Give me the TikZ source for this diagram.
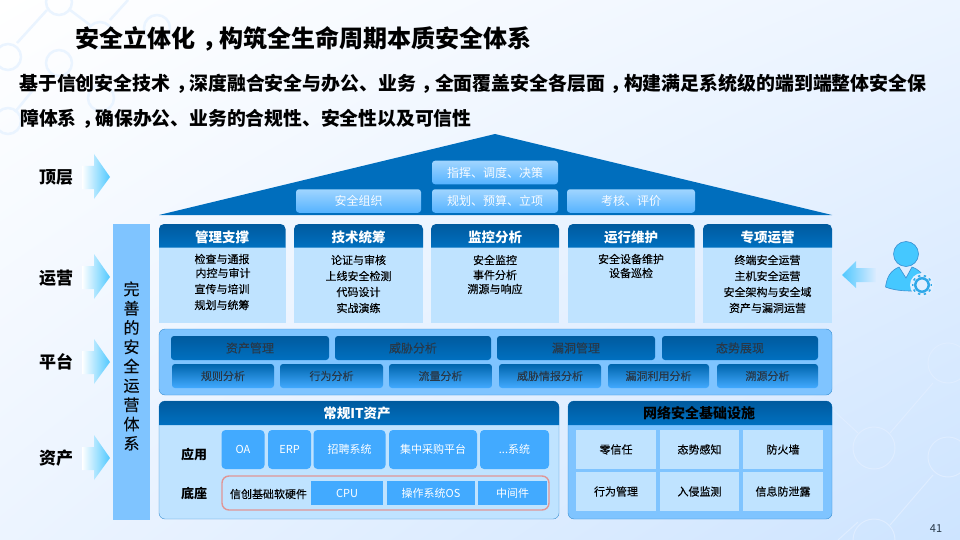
\documentclass[tikz,border=0pt]{standalone}
\usepackage{fontspec}
\setmainfont{Noto Sans CJK SC}
\newfontfamily\medfont[FakeBold=0.12]{Noto Sans CJK SC}
\usepackage{xcolor}
\definecolor{pagemid}{RGB}{236, 244, 255}
\definecolor{pageblue}{RGB}{205, 228, 255}
\definecolor{ringpale}{RGB}{234, 244, 255}
\definecolor{roofblue}{RGB}{0, 110, 189}
\definecolor{headdark}{RGB}{0, 90, 158}
\definecolor{headblue}{RGB}{0, 112, 192}
\definecolor{bodypale}{RGB}{191, 227, 255}
\definecolor{panelblue}{RGB}{127, 196, 255}
\definecolor{panelline}{RGB}{58, 143, 208}
\definecolor{chipblue}{RGB}{66, 170, 255}
\definecolor{arrowcyan}{RGB}{80, 200, 255}
\definecolor{userblue}{RGB}{69, 200, 255}
\definecolor{gearblue}{RGB}{47, 168, 232}
\definecolor{framered}{RGB}{224, 150, 150}
\definecolor{darktext}{RGB}{40, 56, 72}
\newcommand{\ccomma}{\kern.3em，\kern-.3em}
\usepackage{tikz}
\usetikzlibrary{shadings}
\tikzset{
    hdrbar/.style={top color=headdark, bottom color=headblue},
    hdrtext/.style={font=\fontsize{13.5}{15}\selectfont\bfseries, text=white, inner sep=0pt},
    bodytext/.style={font=\fontsize{11}{13}\selectfont\medfont, text=black, inner sep=0pt},
    sidelabel/.style={font=\fontsize{17}{19}\selectfont\bfseries, text=black, inner sep=0pt},
    roofbtn/.style={rounded corners=3pt, top color=bodypale!75!chipblue, bottom color=chipblue!90!white, minimum height=23.5pt, inner sep=0pt, font=\fontsize{12}{14}\selectfont, text=white!90!bodypale},
    platbtn/.style={rounded corners=3pt, top color=headdark, bottom color=headblue, minimum height=24pt, inner sep=0pt, font=\fontsize{12}{14}\selectfont\medfont, text=darktext},
    subbtn/.style={rounded corners=3pt, top color=headblue!90!black, bottom color=chipblue, minimum height=24pt, inner sep=0pt, font=\fontsize{11}{13}\selectfont\medfont, text=darktext},
    appbtn/.style={rounded corners=4pt, fill=chipblue, minimum height=39pt, inner sep=0pt, font=\fontsize{11}{13}\selectfont, text=white},
    basebtn/.style={fill=chipblue, minimum height=24pt, inner sep=0pt, font=\fontsize{11}{13}\selectfont, text=white},
    cellbox/.style={fill=bodypale, minimum height=39pt, inner sep=0pt, font=\fontsize{11}{13}\selectfont\medfont, text=black},
    ring/.style={draw=ringpale, line width=2.5pt},
    whitering/.style={draw=white!35!pageblue, line width=1pt}
}
\begin{document}
\begin{tikzpicture}[x=1pt, y=-1pt]
    \useasboundingbox (0,0) rectangle (960,540);
    \shade[upper left=white, upper right=pagemid, lower left=pagemid, lower right=pageblue] (0,0) rectangle (960,540);

    % pale rings behind the text
    \draw[ring] (59,2) circle (13) (8,57) circle (13) (59,63) circle (13) (157,28) circle (13) (100,35) circle (13) (101,98) circle (13) (8,121) circle (13);
    \draw[ring] (47,10) -- (17,43) (70,10) -- (90,25) (110,20) -- (128,0) (33,90) -- (15,112);
    \draw[whitering] (948,363) circle (20) (874,448) circle (21) (948,457) circle (20) (874,540) circle (21);
    \draw[whitering] (890,433) -- (933,383) (890,525) -- (933,475) (833,410) -- (858,433) (858,522) -- (838,540);

    % title
    \node[font=\fontsize{24}{28}\selectfont\bfseries, anchor=west, inner sep=0pt] (title) at (75,39) {安全立体化\ccomma 构筑全生命周期本质安全体系};
    \node[font=\fontsize{18.9}{22}\selectfont\bfseries, anchor=west, inner sep=0pt] (introa) at (19,84) {基于信创安全技术\ccomma 深度融合安全与办公、业务\ccomma 全面覆盖安全各层面\ccomma 构建满足系统级的端到端整体安全保};
    \node[font=\fontsize{18.8}{22}\selectfont\bfseries, anchor=west, inner sep=0pt] (introb) at (20,118.5) {障体系\ccomma 确保办公、业务的合规性、安全性以及可信性};

    % left labels and arrows
    \node[sidelabel] (lbltop) at (56,177) {顶层};
    \node[sidelabel] (lblops) at (56,278) {运营};
    \node[sidelabel] (lblplat) at (56,362) {平台};
    \node[sidelabel] (lblasset) at (56,458) {资产};
    \shade[left color=white, right color=arrowcyan] (82,166) -- (94,166) -- (94,154) -- (110,177) -- (94,199) -- (94,189) -- (82,189) -- cycle;
    \shade[left color=white, right color=arrowcyan] (82,266) -- (94,266) -- (94,254) -- (110,277) -- (94,299) -- (94,289) -- (82,289) -- cycle;
    \shade[left color=white, right color=arrowcyan] (82,351) -- (94,351) -- (94,339) -- (110,362) -- (94,384) -- (94,374) -- (82,374) -- cycle;
    \shade[left color=white, right color=arrowcyan] (82,447) -- (94,447) -- (94,435) -- (110,458) -- (94,480) -- (94,470) -- (82,470) -- cycle;

    % vertical bar
    \fill[panelblue] (113,224) rectangle (150,520);
    \node[font=\fontsize{16}{19.3}\selectfont\medfont, text=black!85!darktext, align=center, inner sep=0pt] (vbar) at (131.5,366) {完\\善\\的\\安\\全\\运\\营\\体\\系};

    % roof
    \fill[roofblue] (159,215) -- (495,134) -- (832,215) -- cycle;
    \node[roofbtn, minimum width=126pt] (command) at (495,172.5) {指挥、调度、决策};
    \node[roofbtn, minimum width=125pt] (secorg) at (358.5,201) {安全组织};
    \node[roofbtn, minimum width=126pt] (planning) at (495,201) {规划、预算、立项};
    \node[roofbtn, minimum width=128pt] (review) at (631,201) {考核、评价};

    % operations columns
    \fill[bodypale] (159,247) rectangle (285.5,323);
    \fill[bodypale] (294,247) rectangle (423,323);
    \fill[bodypale] (431,247) rectangle (559,323);
    \fill[bodypale] (568,247) rectangle (694.5,323);
    \fill[bodypale] (703,247) rectangle (832,323);
    \shade[hdrbar] (159,247.5) [rounded corners=5pt] -- (159,224) -- (285.5,224) [sharp corners] -- (285.5,247.5) -- cycle;
    \shade[hdrbar] (294,247.5) [rounded corners=5pt] -- (294,224) -- (423,224) [sharp corners] -- (423,247.5) -- cycle;
    \shade[hdrbar] (431,247.5) [rounded corners=5pt] -- (431,224) -- (559,224) [sharp corners] -- (559,247.5) -- cycle;
    \shade[hdrbar] (568,247.5) [rounded corners=5pt] -- (568,224) -- (694.5,224) [sharp corners] -- (694.5,247.5) -- cycle;
    \shade[hdrbar] (703,247.5) [rounded corners=5pt] -- (703,224) -- (832,224) [sharp corners] -- (832,247.5) -- cycle;
    \node[hdrtext] (mgmt) at (222,237) {管理支撑};
    \node[hdrtext] (tech) at (358.5,237) {技术统筹};
    \node[hdrtext] (monitor) at (495,237) {监控分析};
    \node[hdrtext] (maint) at (631,237) {运行维护};
    \node[hdrtext] (special) at (767.5,237) {专项运营};

    \node[bodytext] (mgmta) at (222,259) {检查与通报};
    \node[bodytext] (mgmtb) at (223,273) {内控与审计};
    \node[bodytext] (mgmtc) at (222,289) {宣传与培训};
    \node[bodytext] (mgmtd) at (222,305) {规划与统筹};
    \node[bodytext] (techa) at (358.5,260) {论证与审核};
    \node[bodytext] (techb) at (358.5,276) {上线安全检测};
    \node[bodytext] (techc) at (358.5,292) {代码设计};
    \node[bodytext] (techd) at (358.5,308) {实战演练};
    \node[bodytext] (mona) at (495,260) {安全监控};
    \node[bodytext] (monb) at (495,275) {事件分析};
    \node[bodytext] (monc) at (495,289) {溯源与响应};
    \node[bodytext] (mnta) at (631,259) {安全设备维护};
    \node[bodytext] (mntb) at (631,273) {设备巡检};
    \node[bodytext] (spca) at (767.5,260) {终端安全运营};
    \node[bodytext] (spcb) at (767.5,276) {主机安全运营};
    \node[bodytext] (spcc) at (767.5,292) {安全架构与安全域};
    \node[bodytext] (spcd) at (767.5,308) {资产与漏洞运营};

    % user on the right
    \shade[left color=arrowcyan, right color=pageblue!70!white] (842,275) -- (856,261) -- (856,268) -- (876,268) -- (876,282) -- (856,282) -- (856,288) -- cycle;
    \filldraw[fill=userblue, draw=panelline, line width=0.6pt] (906,254) circle (12.5);
    \filldraw[fill=userblue, draw=panelline, line width=0.6pt] (885.5,287) .. controls (887,277) and (890,271) .. (899,267) -- (906,278) -- (912,267) .. controls (918,269) and (924,274) .. (926,282) -- (912,291) .. controls (902,291) and (893,290) .. (885.5,287) -- cycle;
    \fill[pageblue!60!white] (922,285) circle (12);
    \foreach \ang in {0,36,...,324}
        \draw[gearblue, line width=2.4pt] (922,285) ++(\ang:7) -- ++(\ang:3.2);
    \draw[gearblue, line width=2.6pt] (922,285) circle (6.8);
    \draw[pageblue!60!white, line width=0.5pt] (922,285) circle (8.4);

    % platform
    \node[draw=panelline, fill=panelblue, rounded corners=6pt, minimum width=673pt, minimum height=66pt, inner sep=0pt] (platform) at (495.5,362) {};
    \node[platbtn, minimum width=158pt] (assetmgmt) at (250,348) {资产管理};
    \node[platbtn, minimum width=156pt] (threat) at (413,348) {威胁分析};
    \node[platbtn, minimum width=158pt] (vuln) at (576,348) {漏洞管理};
    \node[platbtn, minimum width=156pt] (situation) at (740,348) {态势展现};
    \node[subbtn, minimum width=102pt] (rules) at (223,376) {规则分析};
    \node[subbtn, minimum width=103pt] (behave) at (331.5,376) {行为分析};
    \node[subbtn, minimum width=103pt] (traffic) at (440.5,376) {流量分析};
    \node[subbtn, minimum width=102pt] (intel) at (550,376) {威胁情报分析};
    \node[subbtn, minimum width=101pt] (exploit) at (658.5,376) {漏洞利用分析};
    \node[subbtn, minimum width=101pt] (trace) at (767.5,376) {溯源分析};

    % regular IT assets
    \node[draw=panelline, fill=bodypale, rounded corners=6pt, minimum width=400pt, minimum height=118pt, inner sep=0pt] (itpanel) at (359,460) {};
    \shade[hdrbar] (159,425) [rounded corners=6pt] -- (159,401) -- (559,401) [sharp corners] -- (559,425) -- cycle;
    \node[hdrtext] (ithead) at (357,413) {常规IT资产};
    \node[font=\fontsize{13}{15}\selectfont\bfseries, inner sep=0pt] (apps) at (194,455) {应用};
    \node[font=\fontsize{13}{15}\selectfont\bfseries, inner sep=0pt] (baselbl) at (194,493) {底座};
    \node[appbtn, minimum width=43pt] (oa) at (243,449.5) {OA};
    \node[appbtn, minimum width=43pt] (erp) at (289.5,449.5) {ERP};
    \node[appbtn, minimum width=72pt] (hiring) at (349.5,449.5) {招聘系统};
    \node[appbtn, minimum width=88pt] (purchase) at (433,449.5) {集中采购平台};
    \node[appbtn, minimum width=69pt] (others) at (514.5,449.5) {...系统};
    \node[draw=framered, line width=1.4pt, rounded corners=7pt, minimum width=327pt, minimum height=34pt, inner sep=0pt] (baseframe) at (385.5,493) {};
    \node[bodytext] (xinchuang) at (268.5,494) {信创基础软硬件};
    \node[basebtn, minimum width=72pt] (cpu) at (347,493) {CPU};
    \node[basebtn, minimum width=88pt] (os) at (431,493) {操作系统OS};
    \node[basebtn, minimum width=69pt] (middleware) at (512.5,493) {中间件};

    % network security infrastructure
    \node[draw=panelline, fill=panelblue, rounded corners=6pt, minimum width=264pt, minimum height=118pt, inner sep=0pt] (netpanel) at (700,460) {};
    \shade[hdrbar] (568,425) [rounded corners=6pt] -- (568,401) -- (832,401) [sharp corners] -- (832,425) -- cycle;
    \node[font=\fontsize{14}{16}\selectfont\bfseries, text=black, inner sep=0pt] (nethead) at (699,413) {网络安全基础设施};
    \node[cellbox, minimum width=80pt] (zerotrust) at (616,449.5) {零信任};
    \node[cellbox, minimum width=79pt] (sense) at (699.5,449.5) {态势感知};
    \node[cellbox, minimum width=80pt] (firewall) at (783,449.5) {防火墙};
    \node[cellbox, minimum width=80pt] (behavemgmt) at (616,491.5) {行为管理};
    \node[cellbox, minimum width=79pt] (intrusion) at (699.5,491.5) {入侵监测};
    \node[cellbox, minimum width=80pt] (leak) at (783,491.5) {信息防泄露};

    \node[font=\fontsize{11}{13}\selectfont, text=darktext, inner sep=0pt] (pageno) at (936,529) {41};
\end{tikzpicture}
\end{document}
